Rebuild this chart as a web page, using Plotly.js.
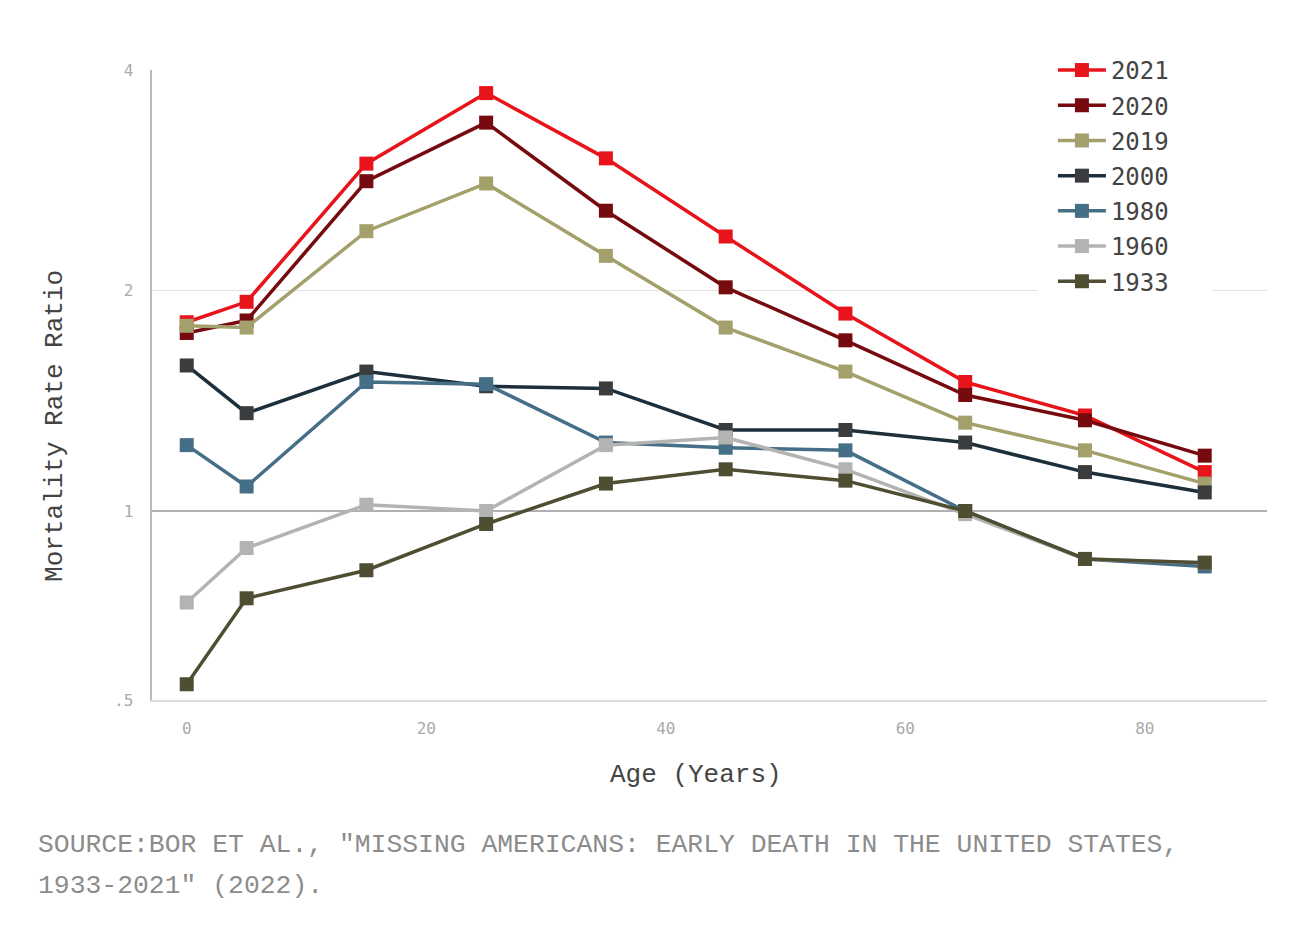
<!DOCTYPE html>
<html>
<head>
<meta charset="utf-8">
<script src="https://cdn.plot.ly/plotly-3.0.1.min.js"></script>
<style>
  body { margin: 0; background: #fff; }
  #chart { width: 1310px; height: 928px; }
</style>
</head>
<body>
<div id="chart"></div>
<script>
// age groups (years) on the x axis
const ages = [0, 5, 15, 25, 35, 45, 55, 65, 75, 85];

// mortality rate ratio by year
const years = ['2021', '2020', '2019', '2000', '1980', '1960', '1933'];
const ratio2021 = [1.81, 1.93, 2.98, 3.72, 3.03, 2.37, 1.86, 1.50, 1.35, 1.13];
const ratio2020 = [1.75, 1.82, 2.82, 3.39, 2.57, 2.02, 1.71, 1.44, 1.33, 1.19];
const ratio2019 = [1.79, 1.78, 2.41, 2.80, 2.23, 1.78, 1.55, 1.32, 1.21, 1.09];
const ratio2000 = [1.58, 1.36, 1.55, 1.48, 1.47, 1.29, 1.29, 1.24, 1.13, 1.06];
const ratio1980 = [1.23, 1.08, 1.50, 1.49, 1.24, 1.22, 1.21, 1.00, 0.86, 0.84];
const ratio1960 = [0.75, 0.89, 1.02, 1.00, 1.23, 1.26, 1.14, 0.99, 0.86, 0.85];
const ratio1933 = [0.58, 0.76, 0.83, 0.96, 1.09, 1.14, 1.10, 1.00, 0.86, 0.85];

const yTickVals = [0.552, 1, 2, 4];
const yTickText = ['.5', '1', '2', '4'];
const yRefLine = [1];
const xTickVals = [0, 20, 40, 60, 80];

const series = [ratio2021, ratio2020, ratio2019, ratio2000, ratio1980, ratio1960, ratio1933];
const lineColors = ['#e8141b', '#760a0e', '#a3a06c', '#1e2f3c', '#456e87', '#b3b3b1', '#4f4e33'];
const markerColors = ['#e8141b', '#760a0e', '#a3a06c', '#3b3c3e', '#456e87', '#b3b3b1', '#4f4e33'];

const mono = '"Courier New", "Nimbus Mono PS", FreeMono, "Liberation Mono", monospace';
const sansMono = '"DejaVu Sans Mono", monospace';

const traces = years.map((yr, i) => ({
  type: 'scatter',
  mode: 'lines+markers',
  name: yr,
  legendgroup: yr,
  x: ages,
  y: series[i],
  line: { color: lineColors[i], width: 3.5 },
  marker: { symbol: 'square', size: 14, color: markerColors[i] }
}));

// empty trace so the overlay axis (darker line at ratio 1) gets drawn
traces.unshift({
  type: 'scatter', mode: 'lines', x: [], y: [],
  yaxis: 'y2', showlegend: false, hoverinfo: 'skip'
});

const yRange = [Math.log10(0.552), Math.log10(4)];

const layout = {
  width: 1310,
  height: 928,
  margin: { l: 152, r: 43, t: 70, b: 228 },
  paper_bgcolor: '#fff',
  plot_bgcolor: '#fff',
  showlegend: true,
  legend: {
    x: 0.808, xanchor: 'left',
    y: 1.035, yanchor: 'top',
    bgcolor: 'rgba(255,255,255,0)',
    font: { family: sansMono, size: 24, color: '#444' },
    itemwidth: 48,
    tracegroupgap: 1,
    traceorder: 'grouped'
  },
  xaxis: {
    range: [-2.9, 90.2],
    tickvals: xTickVals,
    showgrid: false,
    zeroline: false,
    showline: true,
    linecolor: '#dcdcdc',
    linewidth: 2,
    ticks: 'outside',
    ticklen: 13,
    tickcolor: 'rgba(0,0,0,0)',
    tickfont: { family: sansMono, size: 16, color: '#aaa' }
  },
  yaxis: {
    type: 'log',
    range: yRange,
    tickvals: yTickVals,
    ticktext: yTickText,
    showgrid: true,
    gridcolor: '#e2e2e2',
    gridwidth: 1.5,
    zeroline: false,
    showline: true,
    linecolor: '#bbb',
    linewidth: 2.5,
    ticks: 'outside',
    ticklen: 13,
    tickcolor: 'rgba(0,0,0,0)',
    tickfont: { family: sansMono, size: 16, color: '#aaa' }
  },
  // second axis only to draw the darker gridline at ratio 1
  yaxis2: {
    type: 'log',
    overlaying: 'y',
    anchor: 'x',
    range: yRange,
    tickvals: yRefLine,
    showgrid: true,
    gridcolor: '#b0b0b0',
    gridwidth: 2,
    zeroline: false,
    showline: false,
    showticklabels: false,
    ticks: ''
  },
  shapes: [
    {
      // white panel behind the legend
      type: 'rect', xref: 'paper', yref: 'paper',
      x0: 0.794, x1: 0.951, y0: 0.64, y1: 1.03,
      fillcolor: '#fff', line: { width: 0 },
      layer: 'above'
    }
  ],
  annotations: [
    {
      text: 'Age (Years)',
      xref: 'paper', yref: 'paper', x: 0.488, y: -0.119,
      xanchor: 'center', yanchor: 'middle', showarrow: false,
      font: { family: mono, size: 26, color: '#444' }
    },
    {
      text: 'Mortality Rate Ratio',
      xref: 'paper', yref: 'paper', x: -0.087, y: 0.435,
      xanchor: 'center', yanchor: 'middle', showarrow: false, textangle: -90,
      font: { family: mono, size: 26, color: '#444' }
    },
    {
      text: 'SOURCE:BOR ET AL., "MISSING AMERICANS: EARLY DEATH IN THE UNITED STATES,',
      xref: 'paper', yref: 'paper', x: -0.104, y: -0.230,
      xanchor: 'left', yanchor: 'middle', showarrow: false,
      font: { family: mono, size: 26.4, color: '#8c8c8c' }
    },
    {
      text: '1933-2021" (2022).',
      xref: 'paper', yref: 'paper', x: -0.104, y: -0.295,
      xanchor: 'left', yanchor: 'middle', showarrow: false,
      font: { family: mono, size: 26.4, color: '#8c8c8c' }
    }
  ]
};

Plotly.newPlot('chart', traces, layout, { displayModeBar: false, staticPlot: true });
</script>
</body>
</html>
